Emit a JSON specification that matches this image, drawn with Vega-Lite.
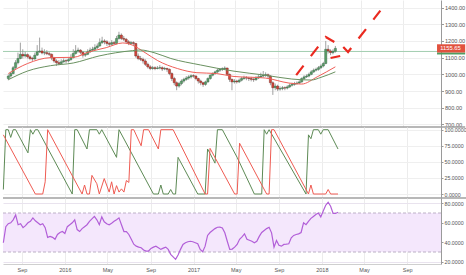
{
  "$schema": "https://vega.github.io/schema/vega-lite/v6.json",
  "padding": 0,
  "bounds": "flush",
  "spacing": 0,
  "resolve": {"scale": {"color": "independent"}},
  "config": {
    "view": {"stroke": null},
    "font": "Liberation Sans",
    "axis": {"labelFont": "Liberation Sans", "labelColor": "#555555", "gridColor": "#ededed", "domainColor": "#9a9a9a", "tickColor": "#9a9a9a", "labelOverlap": false}
  },
  "datasets": {
    "k": [
      {"d":"2015-07-10","o":975,"h":1000,"l":965,"c":990,"r":39.5},
      {"d":"2015-07-17","o":990,"h":1015,"l":980,"c":1005,"r":56},
      {"d":"2015-07-24","o":1005,"h":1050,"l":1000,"c":1040,"r":59},
      {"d":"2015-07-31","o":1040,"h":1085,"l":1030,"c":1070,"r":60},
      {"d":"2015-08-07","o":1070,"h":1130,"l":1060,"c":1095,"r":63},
      {"d":"2015-08-14","o":1095,"h":1190,"l":1090,"c":1120,"r":68},
      {"d":"2015-08-21","o":1120,"h":1150,"l":1095,"c":1110,"r":58},
      {"d":"2015-08-28","o":1110,"h":1135,"l":1100,"c":1118,"r":59},
      {"d":"2015-09-04","o":1118,"h":1125,"l":1095,"c":1105,"r":55},
      {"d":"2015-09-11","o":1105,"h":1115,"l":1085,"c":1095,"r":57},
      {"d":"2015-09-18","o":1095,"h":1105,"l":1080,"c":1092,"r":60},
      {"d":"2015-09-25","o":1092,"h":1130,"l":1088,"c":1115,"r":61.5},
      {"d":"2015-10-02","o":1115,"h":1175,"l":1110,"c":1135,"r":65},
      {"d":"2015-10-09","o":1135,"h":1220,"l":1128,"c":1140,"r":62},
      {"d":"2015-10-16","o":1140,"h":1160,"l":1120,"c":1128,"r":60},
      {"d":"2015-10-23","o":1128,"h":1150,"l":1115,"c":1130,"r":58},
      {"d":"2015-10-30","o":1130,"h":1145,"l":1115,"c":1124,"r":59},
      {"d":"2015-11-06","o":1124,"h":1135,"l":1110,"c":1120,"r":55},
      {"d":"2015-11-13","o":1120,"h":1125,"l":1085,"c":1098,"r":45},
      {"d":"2015-11-20","o":1098,"h":1105,"l":1070,"c":1080,"r":46},
      {"d":"2015-11-27","o":1080,"h":1090,"l":1050,"c":1070,"r":45},
      {"d":"2015-12-04","o":1070,"h":1085,"l":1055,"c":1065,"r":43},
      {"d":"2015-12-11","o":1065,"h":1090,"l":1060,"c":1075,"r":48},
      {"d":"2015-12-18","o":1075,"h":1095,"l":1070,"c":1082,"r":50},
      {"d":"2015-12-25","o":1082,"h":1090,"l":1068,"c":1080,"r":51},
      {"d":"2016-01-01","o":1080,"h":1100,"l":1072,"c":1088,"r":49},
      {"d":"2016-01-08","o":1088,"h":1120,"l":1082,"c":1100,"r":56},
      {"d":"2016-01-15","o":1100,"h":1150,"l":1095,"c":1125,"r":58},
      {"d":"2016-01-22","o":1125,"h":1175,"l":1118,"c":1140,"r":60},
      {"d":"2016-01-29","o":1140,"h":1160,"l":1130,"c":1145,"r":63},
      {"d":"2016-02-05","o":1145,"h":1150,"l":1120,"c":1132,"r":53},
      {"d":"2016-02-12","o":1132,"h":1140,"l":1100,"c":1115,"r":51},
      {"d":"2016-02-19","o":1115,"h":1130,"l":1105,"c":1120,"r":54},
      {"d":"2016-02-26","o":1120,"h":1150,"l":1115,"c":1135,"r":56},
      {"d":"2016-03-04","o":1135,"h":1160,"l":1128,"c":1145,"r":58},
      {"d":"2016-03-11","o":1145,"h":1165,"l":1138,"c":1150,"r":61.5},
      {"d":"2016-03-18","o":1150,"h":1180,"l":1145,"c":1160,"r":64},
      {"d":"2016-03-25","o":1160,"h":1185,"l":1152,"c":1170,"r":66.6},
      {"d":"2016-04-01","o":1170,"h":1215,"l":1165,"c":1190,"r":63},
      {"d":"2016-04-08","o":1190,"h":1225,"l":1182,"c":1200,"r":58},
      {"d":"2016-04-15","o":1200,"h":1210,"l":1180,"c":1195,"r":66},
      {"d":"2016-04-22","o":1195,"h":1205,"l":1170,"c":1185,"r":61},
      {"d":"2016-04-29","o":1185,"h":1195,"l":1165,"c":1180,"r":59},
      {"d":"2016-05-06","o":1180,"h":1205,"l":1172,"c":1190,"r":58},
      {"d":"2016-05-13","o":1190,"h":1200,"l":1175,"c":1185,"r":59.5},
      {"d":"2016-05-20","o":1185,"h":1230,"l":1180,"c":1215,"r":61.5},
      {"d":"2016-05-27","o":1215,"h":1255,"l":1208,"c":1235,"r":63},
      {"d":"2016-06-03","o":1235,"h":1245,"l":1205,"c":1215,"r":65},
      {"d":"2016-06-10","o":1215,"h":1230,"l":1200,"c":1210,"r":58},
      {"d":"2016-06-17","o":1210,"h":1218,"l":1185,"c":1195,"r":51},
      {"d":"2016-06-24","o":1195,"h":1205,"l":1175,"c":1185,"r":51},
      {"d":"2016-07-01","o":1185,"h":1200,"l":1178,"c":1190,"r":48},
      {"d":"2016-07-08","o":1190,"h":1198,"l":1170,"c":1185,"r":43},
      {"d":"2016-07-15","o":1185,"h":1188,"l":1100,"c":1110,"r":38},
      {"d":"2016-07-22","o":1110,"h":1125,"l":1085,"c":1095,"r":36},
      {"d":"2016-07-29","o":1095,"h":1110,"l":1080,"c":1090,"r":35},
      {"d":"2016-08-05","o":1090,"h":1100,"l":1065,"c":1080,"r":34.4},
      {"d":"2016-08-12","o":1080,"h":1090,"l":1050,"c":1060,"r":32},
      {"d":"2016-08-19","o":1060,"h":1070,"l":1035,"c":1045,"r":31},
      {"d":"2016-08-26","o":1045,"h":1055,"l":1025,"c":1035,"r":31},
      {"d":"2016-09-02","o":1035,"h":1050,"l":1028,"c":1040,"r":33.7},
      {"d":"2016-09-09","o":1040,"h":1048,"l":1025,"c":1035,"r":35},
      {"d":"2016-09-16","o":1035,"h":1050,"l":1030,"c":1038,"r":36},
      {"d":"2016-09-23","o":1038,"h":1055,"l":1030,"c":1040,"r":34.4},
      {"d":"2016-09-30","o":1040,"h":1048,"l":1020,"c":1032,"r":32.7},
      {"d":"2016-10-07","o":1032,"h":1045,"l":1025,"c":1035,"r":34},
      {"d":"2016-10-14","o":1035,"h":1040,"l":1015,"c":1030,"r":35},
      {"d":"2016-10-21","o":1030,"h":1035,"l":995,"c":1005,"r":32.7},
      {"d":"2016-10-28","o":1005,"h":1012,"l":960,"c":975,"r":27.6},
      {"d":"2016-11-04","o":975,"h":985,"l":935,"c":950,"r":25},
      {"d":"2016-11-11","o":950,"h":958,"l":905,"c":930,"r":22.5},
      {"d":"2016-11-18","o":930,"h":955,"l":920,"c":945,"r":27},
      {"d":"2016-11-25","o":945,"h":970,"l":935,"c":960,"r":32.7},
      {"d":"2016-12-02","o":960,"h":980,"l":950,"c":970,"r":37.8},
      {"d":"2016-12-09","o":970,"h":990,"l":962,"c":978,"r":39.5},
      {"d":"2016-12-16","o":978,"h":995,"l":968,"c":985,"r":40.5},
      {"d":"2016-12-23","o":985,"h":1000,"l":975,"c":992,"r":41},
      {"d":"2016-12-30","o":992,"h":1000,"l":980,"c":990,"r":40.5},
      {"d":"2017-01-06","o":990,"h":995,"l":965,"c":975,"r":39.5},
      {"d":"2017-01-13","o":975,"h":980,"l":945,"c":960,"r":38.5},
      {"d":"2017-01-20","o":960,"h":968,"l":935,"c":950,"r":32.7},
      {"d":"2017-01-27","o":950,"h":955,"l":925,"c":940,"r":30.3},
      {"d":"2017-02-03","o":940,"h":962,"l":932,"c":955,"r":36},
      {"d":"2017-02-10","o":955,"h":982,"l":950,"c":975,"r":47},
      {"d":"2017-02-17","o":975,"h":1000,"l":968,"c":995,"r":50},
      {"d":"2017-02-24","o":995,"h":1012,"l":988,"c":1005,"r":52},
      {"d":"2017-03-03","o":1005,"h":1022,"l":998,"c":1015,"r":54},
      {"d":"2017-03-10","o":1015,"h":1032,"l":1008,"c":1025,"r":55.4},
      {"d":"2017-03-17","o":1025,"h":1038,"l":1015,"c":1030,"r":55.5},
      {"d":"2017-03-24","o":1030,"h":1042,"l":1020,"c":1035,"r":54.7},
      {"d":"2017-03-31","o":1035,"h":1048,"l":1025,"c":1038,"r":49.7},
      {"d":"2017-04-07","o":1038,"h":1040,"l":990,"c":1000,"r":41},
      {"d":"2017-04-14","o":1000,"h":1005,"l":955,"c":970,"r":32.7},
      {"d":"2017-04-21","o":970,"h":975,"l":905,"c":955,"r":33},
      {"d":"2017-04-28","o":955,"h":972,"l":945,"c":960,"r":35},
      {"d":"2017-05-05","o":960,"h":968,"l":945,"c":955,"r":37.8},
      {"d":"2017-05-12","o":955,"h":975,"l":948,"c":965,"r":43},
      {"d":"2017-05-19","o":965,"h":985,"l":958,"c":975,"r":45.5},
      {"d":"2017-05-26","o":975,"h":992,"l":968,"c":980,"r":48.6},
      {"d":"2017-06-02","o":980,"h":990,"l":965,"c":978,"r":43},
      {"d":"2017-06-09","o":978,"h":985,"l":960,"c":975,"r":42},
      {"d":"2017-06-16","o":975,"h":985,"l":958,"c":970,"r":41},
      {"d":"2017-06-23","o":970,"h":980,"l":955,"c":968,"r":39.5},
      {"d":"2017-06-30","o":968,"h":990,"l":962,"c":978,"r":41},
      {"d":"2017-07-07","o":978,"h":1000,"l":972,"c":985,"r":46},
      {"d":"2017-07-14","o":985,"h":1010,"l":978,"c":990,"r":50},
      {"d":"2017-07-21","o":990,"h":1020,"l":982,"c":995,"r":52},
      {"d":"2017-07-28","o":995,"h":1012,"l":985,"c":998,"r":54},
      {"d":"2017-08-04","o":998,"h":1005,"l":978,"c":990,"r":55.4},
      {"d":"2017-08-11","o":990,"h":995,"l":935,"c":950,"r":49.7},
      {"d":"2017-08-18","o":950,"h":958,"l":877,"c":920,"r":35},
      {"d":"2017-08-25","o":920,"h":945,"l":905,"c":930,"r":41.8},
      {"d":"2017-09-01","o":930,"h":938,"l":900,"c":912,"r":37},
      {"d":"2017-09-08","o":912,"h":928,"l":902,"c":915,"r":36},
      {"d":"2017-09-15","o":915,"h":930,"l":905,"c":920,"r":37.8},
      {"d":"2017-09-22","o":920,"h":928,"l":905,"c":918,"r":38},
      {"d":"2017-09-29","o":918,"h":935,"l":910,"c":925,"r":38.5},
      {"d":"2017-10-06","o":925,"h":945,"l":918,"c":935,"r":44.5},
      {"d":"2017-10-13","o":935,"h":950,"l":928,"c":940,"r":47},
      {"d":"2017-10-20","o":940,"h":955,"l":932,"c":945,"r":48},
      {"d":"2017-10-27","o":945,"h":958,"l":938,"c":948,"r":48.6},
      {"d":"2017-11-03","o":948,"h":965,"l":942,"c":955,"r":50},
      {"d":"2017-11-10","o":955,"h":982,"l":950,"c":975,"r":60},
      {"d":"2017-11-17","o":975,"h":995,"l":968,"c":985,"r":58},
      {"d":"2017-11-24","o":985,"h":1000,"l":978,"c":990,"r":61.5},
      {"d":"2017-12-01","o":990,"h":1010,"l":982,"c":1000,"r":64.5},
      {"d":"2017-12-08","o":1000,"h":1025,"l":995,"c":1015,"r":66.5},
      {"d":"2017-12-15","o":1015,"h":1035,"l":1008,"c":1025,"r":68.5},
      {"d":"2017-12-22","o":1025,"h":1040,"l":1018,"c":1030,"r":70},
      {"d":"2017-12-29","o":1030,"h":1050,"l":1022,"c":1040,"r":66},
      {"d":"2018-01-05","o":1040,"h":1060,"l":1032,"c":1050,"r":72},
      {"d":"2018-01-12","o":1050,"h":1075,"l":1042,"c":1065,"r":78},
      {"d":"2018-01-19","o":1065,"h":1200,"l":1060,"c":1150,"r":81},
      {"d":"2018-01-26","o":1150,"h":1175,"l":1125,"c":1140,"r":77},
      {"d":"2018-02-02","o":1140,"h":1150,"l":1115,"c":1130,"r":69.5},
      {"d":"2018-02-09","o":1130,"h":1150,"l":1120,"c":1138,"r":69.5},
      {"d":"2018-02-16","o":1138,"h":1170,"l":1130,"c":1155.65,"r":70.7}
    ],
    "ma": [
      {"d":"2015-07-10","v":1005,"s":"r"},{"d":"2015-09-04","v":1065,"s":"r"},{"d":"2015-11-10","v":1100,"s":"r"},
      {"d":"2016-01-15","v":1102,"s":"r"},{"d":"2016-03-02","v":1135,"s":"r"},{"d":"2016-04-20","v":1160,"s":"r"},
      {"d":"2016-06-07","v":1188,"s":"r"},{"d":"2016-07-05","v":1175,"s":"r"},{"d":"2016-08-11","v":1130,"s":"r"},
      {"d":"2016-09-17","v":1082,"s":"r"},{"d":"2016-11-13","v":1035,"s":"r"},{"d":"2017-01-09","v":1010,"s":"r"},
      {"d":"2017-03-07","v":1005,"s":"r"},{"d":"2017-04-24","v":988,"s":"r"},{"d":"2017-07-27","v":978,"s":"r"},
      {"d":"2017-10-04","v":948,"s":"r"},{"d":"2017-11-10","v":942,"s":"r"},{"d":"2017-12-25","v":985,"s":"r"},
      {"d":"2018-02-16","v":1045,"s":"r"},
      {"d":"2015-07-10","v":968,"s":"g"},{"d":"2015-09-04","v":1020,"s":"g"},{"d":"2015-11-10","v":1052,"s":"g"},
      {"d":"2016-01-15","v":1068,"s":"g"},{"d":"2016-03-30","v":1110,"s":"g"},{"d":"2016-07-05","v":1142,"s":"g"},
      {"d":"2016-07-28","v":1146,"s":"g"},{"d":"2016-09-09","v":1128,"s":"g"},{"d":"2016-10-25","v":1095,"s":"g"},
      {"d":"2017-01-20","v":1056,"s":"g"},{"d":"2017-04-24","v":1020,"s":"g"},{"d":"2017-07-27","v":995,"s":"g"},
      {"d":"2017-10-12","v":972,"s":"g"},{"d":"2017-12-08","v":966,"s":"g"},{"d":"2018-01-05","v":982,"s":"g"},
      {"d":"2018-02-16","v":1015,"s":"g"}
    ],
    "ar": [
      {"d":"2015-07-10","v":7,"s":"up"},{"d":"2015-07-17","v":100,"s":"up"},{"d":"2015-07-24","v":100,"s":"up"},
      {"d":"2015-07-31","v":88,"s":"up"},{"d":"2015-08-07","v":100,"s":"up"},{"d":"2015-08-14","v":100,"s":"up"},
      {"d":"2015-09-18","v":64,"s":"up"},{"d":"2015-09-25","v":100,"s":"up"},{"d":"2015-10-02","v":93,"s":"up"},
      {"d":"2015-10-09","v":100,"s":"up"},{"d":"2015-10-16","v":100,"s":"up"},{"d":"2016-01-22","v":0,"s":"up"},
      {"d":"2016-01-29","v":100,"s":"up"},{"d":"2016-02-05","v":100,"s":"up"},{"d":"2016-03-04","v":70,"s":"up"},
      {"d":"2016-03-11","v":100,"s":"up"},{"d":"2016-04-01","v":100,"s":"up"},{"d":"2016-04-08","v":93,"s":"up"},
      {"d":"2016-04-15","v":100,"s":"up"},{"d":"2016-05-27","v":57,"s":"up"},{"d":"2016-06-03","v":100,"s":"up"},
      {"d":"2016-09-09","v":0,"s":"up"},{"d":"2016-09-23","v":0,"s":"up"},{"d":"2016-09-30","v":14,"s":"up"},
      {"d":"2016-10-07","v":0,"s":"up"},{"d":"2016-10-21","v":0,"s":"up"},{"d":"2016-10-28","v":7,"s":"up"},
      {"d":"2016-11-04","v":0,"s":"up"},{"d":"2016-11-11","v":0,"s":"up"},{"d":"2016-11-18","v":57,"s":"up"},
      {"d":"2017-01-13","v":0,"s":"up"},{"d":"2017-02-03","v":0,"s":"up"},{"d":"2017-02-10","v":70,"s":"up"},
      {"d":"2017-02-17","v":63,"s":"up"},{"d":"2017-03-03","v":48,"s":"up"},{"d":"2017-03-10","v":100,"s":"up"},
      {"d":"2017-03-24","v":100,"s":"up"},{"d":"2017-05-05","v":57,"s":"up"},{"d":"2017-06-23","v":0,"s":"up"},
      {"d":"2017-07-14","v":0,"s":"up"},{"d":"2017-07-21","v":100,"s":"up"},{"d":"2017-07-28","v":93,"s":"up"},
      {"d":"2017-08-04","v":100,"s":"up"},{"d":"2017-11-17","v":0,"s":"up"},{"d":"2017-11-24","v":92,"s":"up"},
      {"d":"2017-12-01","v":86,"s":"up"},{"d":"2017-12-08","v":100,"s":"up"},{"d":"2017-12-22","v":100,"s":"up"},
      {"d":"2017-12-29","v":93,"s":"up"},{"d":"2018-01-05","v":100,"s":"up"},{"d":"2018-01-19","v":100,"s":"up"},
      {"d":"2018-02-16","v":70,"s":"up"},
      {"d":"2015-07-10","v":92,"s":"down"},{"d":"2015-10-09","v":0,"s":"down"},{"d":"2015-10-30","v":0,"s":"down"},
      {"d":"2015-11-06","v":19,"s":"down"},{"d":"2015-11-13","v":100,"s":"down"},{"d":"2016-02-19","v":0,"s":"down"},
      {"d":"2016-02-26","v":14,"s":"down"},{"d":"2016-03-04","v":0,"s":"down"},{"d":"2016-03-11","v":0,"s":"down"},
      {"d":"2016-03-18","v":29,"s":"down"},{"d":"2016-04-01","v":16,"s":"down"},{"d":"2016-04-08","v":0,"s":"down"},
      {"d":"2016-04-22","v":24,"s":"down"},{"d":"2016-05-06","v":3,"s":"down"},{"d":"2016-05-13","v":19,"s":"down"},
      {"d":"2016-05-20","v":0,"s":"down"},{"d":"2016-05-27","v":13,"s":"down"},{"d":"2016-06-03","v":3,"s":"down"},
      {"d":"2016-06-10","v":8,"s":"down"},{"d":"2016-06-17","v":3,"s":"down"},{"d":"2016-06-24","v":21,"s":"down"},
      {"d":"2016-07-01","v":18,"s":"down"},{"d":"2016-07-08","v":100,"s":"down"},{"d":"2016-07-15","v":100,"s":"down"},
      {"d":"2016-08-05","v":75,"s":"down"},{"d":"2016-08-12","v":100,"s":"down"},{"d":"2016-08-26","v":100,"s":"down"},
      {"d":"2016-09-23","v":70,"s":"down"},{"d":"2016-09-30","v":100,"s":"down"},{"d":"2016-11-04","v":100,"s":"down"},
      {"d":"2017-02-03","v":0,"s":"down"},{"d":"2017-02-10","v":0,"s":"down"},{"d":"2017-02-17","v":71,"s":"down"},
      {"d":"2017-04-28","v":0,"s":"down"},{"d":"2017-05-05","v":0,"s":"down"},{"d":"2017-05-12","v":79,"s":"down"},
      {"d":"2017-07-28","v":0,"s":"down"},{"d":"2017-08-04","v":0,"s":"down"},{"d":"2017-08-11","v":100,"s":"down"},
      {"d":"2017-08-18","v":100,"s":"down"},{"d":"2017-11-24","v":0,"s":"down"},{"d":"2017-12-01","v":14,"s":"down"},
      {"d":"2017-12-08","v":0,"s":"down"},{"d":"2018-01-12","v":0,"s":"down"},{"d":"2018-01-19","v":7,"s":"down"},
      {"d":"2018-01-26","v":0,"s":"down"},{"d":"2018-02-16","v":0,"s":"down"}
    ],
    "an": [
      {"d":"2017-10-25","p":995,"g":"a"},{"d":"2018-01-19","p":1224,"g":"a"},{"d":"2018-02-13","p":1194,"g":"a"},
      {"d":"2018-02-02","p":1098,"g":"c"},{"d":"2018-03-02","p":1110,"g":"c"},
      {"d":"2018-03-11","p":1164,"g":"d"},{"d":"2018-03-25","p":1134,"g":"d"},{"d":"2018-06-27","p":1381,"g":"d"}
    ],
    "tag": [
      {"d1":"2018-12-09","d2":"2019-03-01","lo":1119,"hi":1131,"c":"g"},
      {"d1":"2018-12-09","d2":"2019-03-01","lo":1131,"hi":1180,"c":"r"}
    ],
    "tagt": [{"d":"2019-01-17","p":1155.65,"t":"1155.65"}],
    "lvl": [{"p":1137}],
    "sep1": [{"d1":"2015-07-09","d2":"2019-03-01","v":685}],
    "sep2": [{"d1":"2015-07-09","d2":"2019-03-01","v":-6.2}],
    "band": [{"lo":30,"hi":70}],
    "bandl": [{"v":30},{"v":70}]
  },
  "vconcat": [
    {
      "width": 438,
      "height": 127,
      "resolve": {"axis": {"y": "independent"}},
      "layer": [
        {
          "data": {"name": "lvl"},
          "mark": {"type": "rule", "color": "#a3cdb0", "strokeWidth": 1},
          "encoding": {
            "y": {"field": "p", "type": "quantitative", "scale": {"domain": [685, 1445], "nice": false, "zero": false},
              "axis": {"orient": "right", "title": null, "values": [700, 800, 900, 1000, 1100, 1200, 1300, 1400], "format": ".2f", "tickSize": 2.5, "labelPadding": 1, "labelFontSize": 5.6, "labelOverlap": false, "labelBound": false, "grid": true, "gridColor": "#efefef"}}
          }
        },
        {
          "data": {"name": "k"},
          "mark": {"type": "rule", "color": "#8a8a8a", "strokeWidth": 0.8},
          "encoding": {
            "x": {"field": "d", "type": "temporal",
              "scale": {"domain": [{"year": 2015, "month": 7, "date": 9}, {"year": 2018, "month": 12, "date": 6}], "nice": false},
              "axis": {"title": null, "labels": false, "ticks": false, "domain": false, "grid": true, "gridColor": "#ececec", "tickCount": {"interval": "month", "step": 4}}},
            "y": {"field": "l", "type": "quantitative", "axis": null},
            "y2": {"field": "h"}
          }
        },
        {
          "data": {"name": "k"},
          "mark": {"type": "bar", "size": 2.2, "strokeWidth": 0.4},
          "encoding": {
            "x": {"field": "d", "type": "temporal"},
            "y": {"field": "o", "type": "quantitative", "axis": null},
            "y2": {"field": "c"},
            "fill": {"condition": {"test": "datum.c >= datum.o", "value": "#5a9e68"}, "value": "#d2453a"},
            "stroke": {"condition": {"test": "datum.c >= datum.o", "value": "#2a5c3a"}, "value": "#6a2018"}
          }
        },
        {
          "data": {"name": "ma"},
          "mark": {"type": "line", "strokeWidth": 1, "interpolate": "monotone"},
          "encoding": {
            "x": {"field": "d", "type": "temporal"},
            "y": {"field": "v", "type": "quantitative", "axis": null},
            "color": {"field": "s", "type": "nominal", "scale": {"domain": ["r", "g"], "range": ["#f05e58", "#6a9160"]}, "legend": null}
          }
        },
        {
          "data": {"name": "an"},
          "mark": {"type": "line", "color": "#ea2a20", "strokeWidth": 2.2, "strokeDash": [12, 12]},
          "encoding": {
            "x": {"field": "d", "type": "temporal"},
            "y": {"field": "p", "type": "quantitative", "axis": null},
            "detail": {"field": "g", "type": "nominal"}
          }
        },
        {
          "data": {"name": "tag"},
          "mark": {"type": "rect"},
          "encoding": {
            "x": {"field": "d1", "type": "temporal"},
            "x2": {"field": "d2"},
            "y": {"field": "lo", "type": "quantitative", "axis": null},
            "y2": {"field": "hi"},
            "fill": {"condition": {"test": "datum.c == 'r'", "value": "#e2513e"}, "value": "#4f9d62"}
          }
        },
        {
          "data": {"name": "tagt"},
          "mark": {"type": "text", "color": "#ffffff", "fontSize": 5.8, "align": "center", "baseline": "middle", "font": "Liberation Sans"},
          "encoding": {
            "x": {"field": "d", "type": "temporal"},
            "y": {"field": "p", "type": "quantitative", "axis": null},
            "text": {"field": "t"}
          }
        },
        {
          "data": {"name": "sep1"},
          "mark": {"type": "rule", "color": "#a0a0a0", "strokeWidth": 1.5},
          "encoding": {
            "x": {"field": "d1", "type": "temporal"},
            "x2": {"field": "d2"},
            "y": {"field": "v", "type": "quantitative", "axis": null}
          }
        }
      ]
    },
    {
      "width": 438,
      "height": 71,
      "resolve": {"axis": {"y": "independent"}},
      "layer": [
        {
          "data": {"name": "ar"},
          "mark": {"type": "line", "strokeWidth": 1},
          "encoding": {
            "x": {"field": "d", "type": "temporal",
              "scale": {"domain": [{"year": 2015, "month": 7, "date": 9}, {"year": 2018, "month": 12, "date": 6}], "nice": false},
              "axis": {"title": null, "labels": false, "ticks": false, "domain": false, "grid": true, "gridColor": "#ececec", "tickCount": {"interval": "month", "step": 4}}},
            "y": {"field": "v", "type": "quantitative", "scale": {"domain": [-6.2, 104.2], "nice": false, "zero": false},
              "axis": {"orient": "right", "title": null, "values": [0, 25, 50, 75, 100], "format": ".4f", "tickSize": 2, "labelPadding": 1, "labelFontSize": 5.3, "labelOverlap": false, "grid": true, "gridColor": "#efefef"}},
            "color": {"field": "s", "type": "nominal", "scale": {"domain": ["up", "down"], "range": ["#5d8a55", "#ef5b52"]}, "legend": null}
          }
        },
        {
          "data": {"name": "sep2"},
          "mark": {"type": "rule", "color": "#a0a0a0", "strokeWidth": 1.5},
          "encoding": {
            "x": {"field": "d1", "type": "temporal"},
            "x2": {"field": "d2"},
            "y": {"field": "v", "type": "quantitative", "axis": null}
          }
        }
      ]
    },
    {
      "width": 438,
      "height": 66,
      "resolve": {"axis": {"y": "independent"}},
      "layer": [
        {
          "data": {"name": "band"},
          "mark": {"type": "rect", "color": "#f4e7fc"},
          "encoding": {
            "y": {"field": "lo", "type": "quantitative", "scale": {"domain": [17.7, 85.4], "nice": false, "zero": false},
              "axis": {"orient": "right", "title": null, "values": [20, 40, 60, 80], "format": ".4f", "tickSize": 2, "labelPadding": 1, "labelFontSize": 5.3, "labelOverlap": false, "labelBound": false, "grid": true, "gridColor": "#e9e3ee"}},
            "y2": {"field": "hi"}
          }
        },
        {
          "data": {"name": "bandl"},
          "mark": {"type": "rule", "color": "#bcb0c6", "strokeWidth": 1, "strokeDash": [3, 2]},
          "encoding": {"y": {"field": "v", "type": "quantitative", "axis": null}}
        },
        {
          "data": {"name": "k"},
          "mark": {"type": "line", "color": "#b25fd8", "strokeWidth": 1.2},
          "encoding": {
            "x": {"field": "d", "type": "temporal",
              "scale": {"domain": [{"year": 2015, "month": 7, "date": 9}, {"year": 2018, "month": 12, "date": 6}], "nice": false},
              "axis": {"title": null, "ticks": false, "domain": true, "domainColor": "#cfcfcf", "grid": true, "gridColor": "#ececec", "tickCount": {"interval": "month", "step": 4}, "labelFontSize": 5.5, "labelPadding": 3, "labelColor": "#555555",
                "labelExpr": "month(datum.value) == 0 ? timeFormat(datum.value, '%Y') : timeFormat(datum.value, '%b')"}},
            "y": {"field": "r", "type": "quantitative", "axis": null}
          }
        }
      ]
    }
  ]
}
